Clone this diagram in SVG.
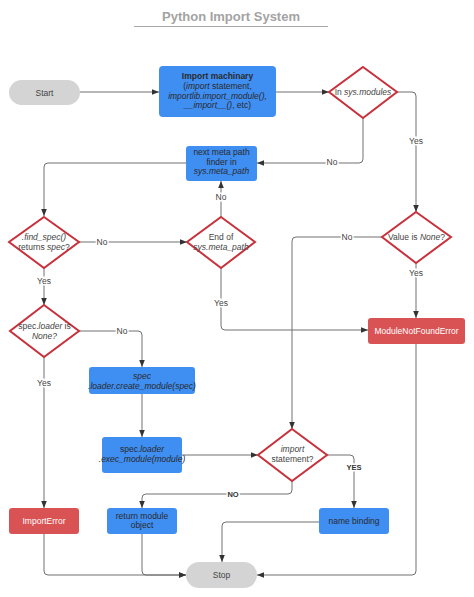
<svg xmlns="http://www.w3.org/2000/svg" width="474" height="597" viewBox="0 0 474 597">
<defs>
<marker id="ah" viewBox="0 0 10 10" refX="10" refY="5" markerWidth="7" markerHeight="7" orient="auto" markerUnits="userSpaceOnUse">
<path d="M0,1 L10,5 L0,9 Z" fill="#333"/>
</marker>
<style>
text{font-family:"Liberation Sans",Arial,sans-serif;font-size:8.5px;fill:#2a2a2a;text-anchor:middle}
.i{font-style:italic}
.b{font-weight:bold}
.w{fill:#fff}
.blue{fill:#3f8ef2;stroke:none}
.red{fill:#d95354;stroke:none}
.grey{fill:#d4d4d4;stroke:none}
.dia{fill:#fff;stroke:#c8313b;stroke-width:2;stroke-linejoin:miter}
.dt{fill:#444}
.c path{fill:none;stroke:#707070;stroke-width:1}
.c .a{marker-end:url(#ah)}
.lbl{fill:#444;stroke:#fff;stroke-width:3;paint-order:stroke;font-size:8.5px}
.lb{font-weight:bold;font-size:7.5px;fill:#333;stroke:#fff;stroke-width:3;paint-order:stroke}
</style>
</defs>
<rect width="474" height="597" fill="#fff"/>
<g id="title">
<text x="231" y="21" class="b" style="font-size:13px;fill:#a3a3a3">Python Import System</text>
<line x1="134" y1="26.5" x2="328" y2="26.5" stroke="#a8a8a8" stroke-width="1"/>
</g>
<g class="c" id="connectors">
<path class="a" d="M80,92 H159"/>
<path class="a" d="M276,92 H329"/>
<path class="a" d="M397,92 H412 Q416,92 416,96 V212"/>
<path class="a" d="M363,118 V159 Q363,163 359,163 H257"/>
<path class="a" d="M186,163 H48 Q44,163 44,167 V216"/>
<path class="a" d="M79,242 H187"/>
<path class="a" d="M221,217 V181"/>
<path class="a" d="M221,268 V326 Q221,330 225,330 H368"/>
<path class="a" d="M382,237 H296 Q292,237 292,241 V429"/>
<path class="a" d="M416,263 V318"/>
<path class="a" d="M416,344 V571 Q416,575 412,575 H257"/>
<path class="a" d="M44,268 V305"/>
<path class="a" d="M79,331 H138 Q142,331 142,335 V367"/>
<path class="a" d="M44,357 V508"/>
<path class="a" d="M142,394 V437"/>
<path class="a" d="M182,455 H258"/>
<path class="a" d="M327,455 H350 Q354,455 354,459 V508"/>
<path class="a" d="M292,481 V490 Q292,494 288,494 H146 Q142,494 142,498 V508"/>
<path class="a" d="M319,522 H226 Q222,522 222,526 V562"/>
<path class="a" d="M142,534 V571 Q142,575 146,575 H186"/>
<path class="a" d="M44,534 V571 Q44,575 48,575 H186"/>
<text x="416" y="144" class="lbl">Yes</text>
<text x="332" y="165" class="lbl">No</text>
<text x="102" y="245" class="lbl">No</text>
<text x="221" y="200" class="lbl">No</text>
<text x="221" y="306" class="lbl">Yes</text>
<text x="347" y="240" class="lbl">No</text>
<text x="416" y="276" class="lbl">Yes</text>
<text x="44" y="284" class="lbl">Yes</text>
<text x="122" y="334" class="lbl">No</text>
<text x="44" y="386" class="lbl">Yes</text>
<text x="354" y="470" class="lb">YES</text>
<text x="233" y="497" class="lb">NO</text>
</g>
<g id="start">
<rect x="9" y="80" width="71" height="25" rx="12.5" class="grey"/>
<text x="44.5" y="95.5" class="dt">Start</text>
</g>
<g id="import-machinary">
<rect x="159" y="66" width="117" height="51" rx="4" class="blue"/>
<text x="217.5" y="79" class="b">Import machinary</text>
<text x="217.5" y="89">(<tspan class="i">import</tspan> statement,</text>
<text x="217.5" y="98.5" class="i">importlib.import_module(),</text>
<text x="217.5" y="108"><tspan class="i">__import__()</tspan>, etc)</text>
</g>
<g id="in-sys-modules">
<path d="M363,67 L397,92 L363,118 L329,92 Z" class="dia"/>
<text x="363" y="95" class="dt">In <tspan class="i">sys.modules</tspan></text>
</g>
<g id="next-meta-path">
<rect x="186" y="146" width="71" height="35" rx="3" class="blue"/>
<text x="221.5" y="155">next meta path</text>
<text x="221.5" y="164.5">finder in</text>
<text x="221.5" y="174" class="i">sys.meta_path</text>
</g>
<g id="find-spec">
<path d="M44,217 L79,242 L44,268 L9,242 Z" class="dia"/>
<text x="44" y="240" class="i dt">.find_spec()</text>
<text x="44" y="250" class="dt">returns <tspan class="i">spec</tspan>?</text>
</g>
<g id="end-of-meta-path">
<path d="M221,217 L255,242 L221,268 L187,242 Z" class="dia"/>
<text x="221" y="240" class="dt">End of</text>
<text x="221" y="250" class="i dt">sys.meta_path</text>
</g>
<g id="value-is-none">
<path d="M416,212 L451,237 L416,263 L382,237 Z" class="dia"/>
<text x="416.5" y="240" class="dt">Value is <tspan class="i">None</tspan>?</text>
</g>
<g id="module-not-found">
<rect x="368" y="318" width="97" height="26" rx="3" class="red"/>
<text x="416.5" y="334" class="w">ModuleNotFoundError</text>
</g>
<g id="loader-is-none">
<path d="M44,305 L79,331 L44,357 L10,331 Z" class="dia"/>
<text x="44.5" y="329" class="dt">spec.<tspan class="i">loader</tspan> is</text>
<text x="44.5" y="339" class="i dt">None?</text>
</g>
<g id="create-module">
<rect x="89" y="367" width="106" height="27" rx="3" class="blue"/>
<text x="142" y="378.5" class="i">spec</text>
<text x="142" y="389" class="i">.loader.create_module(spec)</text>
</g>
<g id="exec-module">
<rect x="102" y="437" width="80" height="36" rx="3" class="blue"/>
<text x="142" y="452">spec.<tspan class="i">loader</tspan></text>
<text x="142" y="462" class="i">.exec_module(module)</text>
</g>
<g id="import-statement">
<path d="M292,429 L327,455 L292,481 L258,455 Z" class="dia"/>
<text x="292.5" y="452" class="i dt">import</text>
<text x="292.5" y="462" class="dt">statement?</text>
</g>
<g id="name-binding">
<rect x="319" y="508" width="70" height="26" rx="3" class="blue"/>
<text x="354" y="524">name binding</text>
</g>
<g id="return-module">
<rect x="107" y="508" width="70" height="26" rx="3" class="blue"/>
<text x="142" y="518.5">return module</text>
<text x="142" y="528">object</text>
</g>
<g id="import-error">
<rect x="9" y="508" width="70" height="26" rx="3" class="red"/>
<text x="44" y="524" class="w">ImportError</text>
</g>
<g id="stop">
<rect x="186" y="562" width="71" height="26" rx="13" class="grey"/>
<text x="221.5" y="578" class="dt">Stop</text>
</g>
</svg>
